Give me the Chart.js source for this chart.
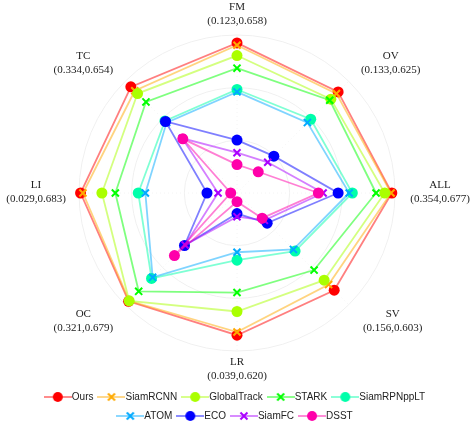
<!DOCTYPE html>
<html>
<head>
<meta charset="utf-8">
<script src="https://cdn.jsdelivr.net/npm/chart.js@4"></script>
<style>
  body { margin: 0; background: #fff; }
  .wrap { width: 474px; height: 428px; }
</style>
</head>
<body>
<div class="wrap"><canvas class="js-chart"></canvas></div>
<script>
(function () {

  // attributes, clockwise from the top, with the (min,max) range of each axis
  const axes = ['FM', 'OV', 'ALL', 'SV', 'LR', 'OC', 'LI', 'TC'];
  const axisMin = ['0.123', '0.133', '0.354', '0.156', '0.039', '0.321', '0.029', '0.334'];
  const axisMax = ['0.658', '0.625', '0.677', '0.603', '0.620', '0.679', '0.683', '0.654'];

  // position of each tracker on each axis, 0 = centre, 1 = outer ring
  const ours        = [0.95, 0.905, 0.98, 0.87, 0.90, 0.97, 0.99, 0.95];
  const siamRCNN    = [0.935, 0.89, 0.975, 0.82, 0.88, 0.965, 0.975, 0.915];
  const globalTrack = [0.87, 0.84, 0.935, 0.78, 0.75, 0.965, 0.855, 0.89];
  const stark       = [0.79, 0.83, 0.88, 0.69, 0.63, 0.88, 0.77, 0.815];
  const siamRPNppLT = [0.655, 0.66, 0.73, 0.52, 0.425, 0.765, 0.625, 0.645];
  const atom        = [0.64, 0.63, 0.71, 0.505, 0.375, 0.755, 0.58, 0.63];
  const eco         = [0.335, 0.33, 0.64, 0.27, 0.13, 0.47, 0.19, 0.64];
  const siamFC      = [0.255, 0.275, 0.545, 0.245, 0.15, 0.465, 0.12, 0.49];
  const dsst        = [0.18, 0.19, 0.515, 0.225, 0.055, 0.56, 0.04, 0.485];

  const names = ['Ours', 'SiamRCNN', 'GlobalTrack', 'STARK', 'SiamRPNppLT', 'ATOM', 'ECO', 'SiamFC', 'DSST'];
  const series = [ours, siamRCNN, globalTrack, stark, siamRPNppLT, atom, eco, siamFC, dsst];
  const colors = ['#ff0000', '#ffaa00', '#aaff00', '#00ff00', '#00ffaa', '#00aaff', '#0000ff', '#aa00ff', '#ff00aa'];
  const markers = ['circle', 'crossRot', 'circle', 'crossRot', 'circle', 'crossRot', 'circle', 'crossRot', 'circle'];

  // where each axis title sits, relative to the end of its axis
  const titleOffset = [[0, -21], [42, -18], [45, -1], [44, 16], [0, 18], [-42, 16], [-43, -1], [-42, -18]];

  const labels = axes.map((a, i) => [a, '(' + axisMin[i] + ',' + axisMax[i] + ')']);
  const labelFont = { family: '"Liberation Serif", "Times New Roman", serif', size: 11, lineHeight: 14 / 11 };

  function fade(hex, a) {
    const n = parseInt(hex.slice(1), 16);
    return 'rgba(' + (n >> 16) + ',' + ((n >> 8) & 255) + ',' + (n & 255) + ',' + a + ')';
  }

  // little line + marker picture for the legend
  function legendIcon(color, marker) {
    const c = document.createElement('canvas');
    c.width = 28;
    c.height = 12;
    const g = c.getContext('2d');
    g.strokeStyle = fade(color, 0.5);
    g.lineWidth = 1.8;
    g.beginPath();
    g.moveTo(0, 6);
    g.lineTo(28, 6);
    g.stroke();
    if (marker === 'circle') {
      g.fillStyle = color;
      g.beginPath();
      g.arc(14, 6, 5, 0, Math.PI * 2);
      g.fill();
    } else {
      g.strokeStyle = color;
      g.lineWidth = 2;
      g.beginPath();
      g.moveTo(10.5, 2.5); g.lineTo(17.5, 9.5);
      g.moveTo(17.5, 2.5); g.lineTo(10.5, 9.5);
      g.stroke();
    }
    return c;
  }

  const datasets = series.map((vals, i) => ({
    label: names[i],
    data: vals,
    borderColor: fade(colors[i], 0.5),
    borderWidth: 1.8,
    fill: false,
    tension: 0,
    pointStyle: markers[i],
    pointRadius: markers[i] === 'circle' ? 5.5 : 5,
    pointBackgroundColor: colors[i],
    pointBorderColor: colors[i],
    pointBorderWidth: markers[i] === 'circle' ? 0 : 2,
    order: series.length - i
  }));

  const icons = series.map((s, i) => legendIcon(colors[i], markers[i]));

  // axis titles: two centred lines each
  const axisTitles = {
    id: 'axisTitles',
    afterDraw(chart) {
      const scale = chart.scales.r;
      const ctx = chart.ctx;
      ctx.save();
      ctx.font = labelFont.size + 'px ' + labelFont.family;
      ctx.fillStyle = '#222';
      ctx.textAlign = 'center';
      ctx.textBaseline = 'middle';
      labels.forEach((lines, i) => {
        const p = scale.getPointPosition(i, scale.drawingArea);
        const cx = p.x + titleOffset[i][0];
        const cy = p.y + titleOffset[i][1];
        ctx.fillText(lines[0], cx, cy - 7);
        ctx.fillText(lines[1], cx, cy + 7);
      });
      ctx.restore();
    }
  };

  const config = {
    type: 'radar',
    data: { labels: labels, datasets: datasets },
    plugins: [axisTitles],
    options: {
      responsive: true,
      maintainAspectRatio: false,
      animation: false,
      layout: {
        padding: { top: 0, bottom: -3, left: 12, right: 12 }
      },
      plugins: {
        tooltip: { enabled: false },
        legend: {
          position: 'bottom',
          labels: {
            usePointStyle: true,
            pointStyleWidth: 18,
            padding: 9,
            color: '#222',
            font: { family: '"Liberation Sans", Arial, sans-serif', size: 10 },
            generateLabels: (chart) => chart.data.datasets.map((ds, i) => ({
              text: ds.label,
              pointStyle: icons[i],
              datasetIndex: i,
              hidden: false,
              lineWidth: 0,
              fontColor: '#222'
            })),
            sort: (a, b) => a.datasetIndex - b.datasetIndex
          }
        }
      },
      scales: {
        r: {
          min: 0,
          max: 1,
          ticks: { display: false, stepSize: 1 / 3 },
          grid: { circular: true, color: '#f0f0f0', borderDash: [1, 2] },
          angleLines: { color: '#f4f4f4', borderDash: [1, 3] },
          pointLabels: {
            // kept only to size the radar; the visible titles come from the plugin
            color: 'rgba(0,0,0,0)',
            padding: (ctx) => (ctx.index === 0 ? 5 : ctx.index === 4 ? 1 : 0),
            font: labelFont
          }
        }
      }
    }
  };

  new Chart(document.querySelector('.js-chart'), config);

})();
</script>
</body>
</html>
